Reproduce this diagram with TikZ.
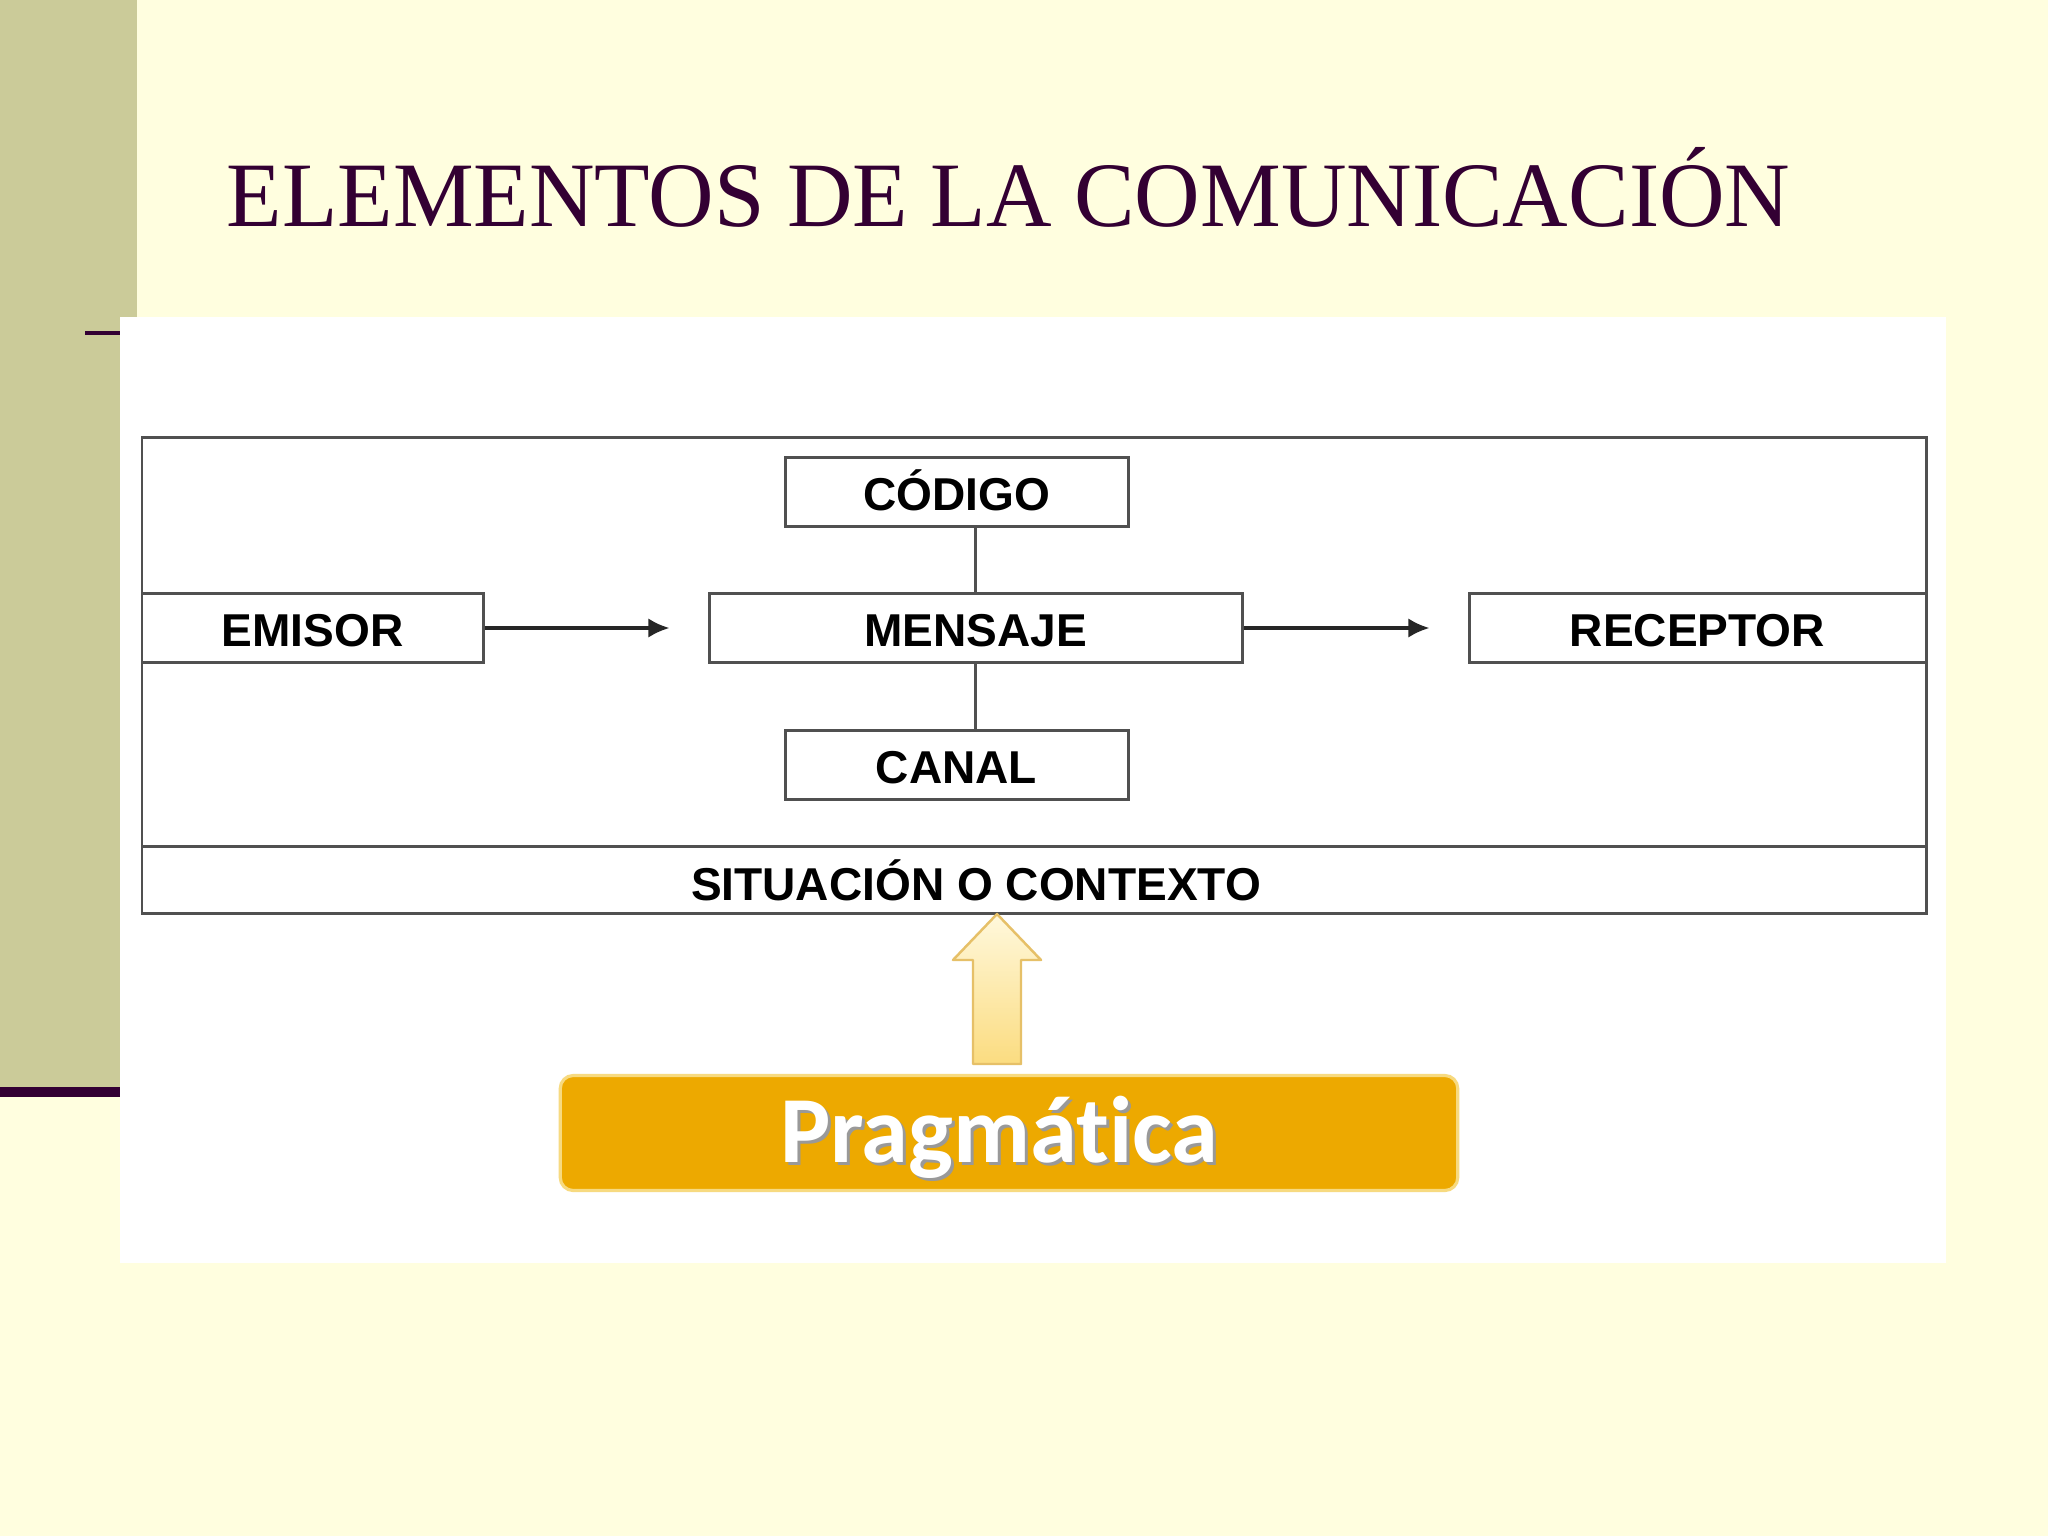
\documentclass[tikz,border=0pt]{standalone}
\usepackage{fontspec}
\setmainfont{Liberation Serif}
\newfontfamily\lsans{Liberation Sans}
\newfontfamily\carl[Ligatures={NoCommon}]{Carlito}
\usetikzlibrary{calc,arrows.meta}
\definecolor{bgcream}{HTML}{FFFEDF}
\definecolor{sidebar}{HTML}{CBCB99}
\definecolor{plum}{HTML}{330033}
\definecolor{boxline}{HTML}{505050}
\definecolor{gold}{HTML}{EDA900}
\definecolor{goldedge}{HTML}{F7DA80}
\definecolor{arrtop}{HTML}{FFF8DC}
\definecolor{arrbot}{HTML}{FBDC80}
\definecolor{arredge}{HTML}{E6C068}
\tikzset{
  lblfont/.style={font=\lsans\fontsize{13.1}{15}\selectfont\bfseries},
  elbox/.style={draw=boxline, line width=0.85pt, fill=white, inner sep=0pt,
    lblfont, text height=1.07em, text depth=0pt},
  conn/.style={draw=black!85, line width=0.95pt, -{Latex[length=6pt,width=5.5pt]}},
  plain/.style={draw=boxline, line width=0.85pt},
}
\begin{document}
\begin{tikzpicture}[x=0.01cm,y=-0.01cm]
\useasboundingbox (0,0) rectangle (2048,1536);
\fill[bgcream] (0,0) rectangle (2048,1536);
\fill[sidebar] (0,0) rectangle (137,1087);
\fill[plum] (0,1087) rectangle (120,1097);
\fill[plum] (85,331) rectangle (120,335);
\fill[white] (120,317) rectangle (1946,1263);
% title
\node[anchor=base west, inner sep=0pt, text=plum, font=\fontsize{26.2}{30}\selectfont] (title) at (226,226) {\scalebox{0.985}[1]{ELEMENTOS DE LA COMUNICACIÓN}};
% frame
\draw[plain] (142,437) rectangle (1926,846);
\draw[plain] (142,846) rectangle (1926,913);
\node[inner sep=0pt, lblfont] (situacion) at (976,880) {SITUACIÓN O CONTEXTO};
% boxes
\node[elbox, minimum width=341*0.01cm, minimum height=0.68cm] (emisor) at (312.5,628) {EMISOR};
\node[elbox, minimum width=533*0.01cm, minimum height=0.68cm] (mensaje) at (975.5,628) {MENSAJE};
\node[elbox, minimum width=457*0.01cm, minimum height=0.68cm] (receptor) at (1697.5,628) {RECEPTOR};
\node[elbox, minimum width=343*0.01cm, minimum height=0.68cm] (codigo) at (956.5,492) {CÓDIGO};
\node[elbox, minimum width=343*0.01cm, minimum height=0.68cm] (canal) at (956.5,765) {CANAL};
% connectors
\draw[plain] (mensaje.north) -- (mensaje.north |- codigo.south);
\draw[plain] (mensaje.south) -- (mensaje.south |- canal.north);
\draw[conn] (emisor.east) -- ($(mensaje.west)+(-38,0)$);
\draw[conn] (mensaje.east) -- ($(receptor.west)+(-38,0)$);
% block arrow
\shade[top color=arrtop, bottom color=arrbot, draw=arredge, line width=0.7pt, line join=round]
  (973,1064) -- (973,960) -- (953,960) -- (997,914) -- (1041,960) -- (1021,960) -- (1021,1064) -- cycle;
% pragmatica
\node[draw=goldedge, line width=0.9pt, fill=gold, rounded corners=0.13cm,
  minimum width=8.97cm, minimum height=1.15cm, inner sep=0pt] (prag) at (1009,1133) {};
\node[inner sep=0pt, text=black!40, font=\carl\fontsize{26.9}{30}\selectfont\bfseries] (pragshadow) at (1002,1140) {Pragmática};
\node[inner sep=0pt, text=white, font=\carl\fontsize{26.9}{30}\selectfont\bfseries] (pragtext) at (999,1137) {Pragmática};
\end{tikzpicture}
\end{document}
